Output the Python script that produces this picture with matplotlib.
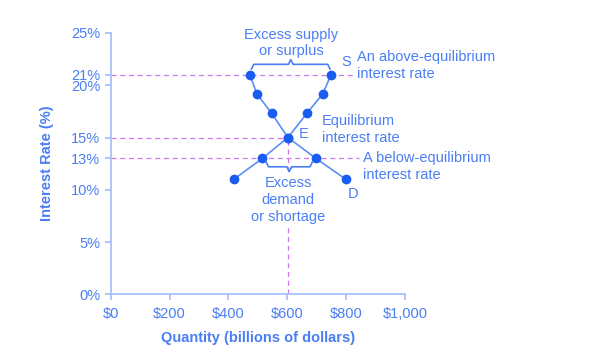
import matplotlib.pyplot as plt

# supply and demand points (quantity in billions, interest rate in %)
supply_q = [418, 515, 602, 666, 721, 748]
supply_r = [11, 13, 15, 17.3, 19.2, 21]
demand_q = [473, 496, 547, 602, 697, 799]
demand_r = [21, 19.2, 17.3, 15, 13, 11]

yticks = [0, 5, 10, 13, 15, 20, 21, 25]
ytick_labels = ["0%", "5%", "10%", "13%", "15%", "20%", "21%", "25%"]
xticks = [0, 200, 400, 600, 800, 1000]
xtick_labels = ["$0", "$200", "$400", "$600", "$800", "$1,000"]

text_c = "#4a7ef5"
spine_c = "#a3bcf8"
line_c = "#5b8ef5"
dot_c = "#1a5cf0"
dash_c = "#cc77ee"

plt.rcParams['font.family'] = ['Liberation Sans', 'DejaVu Sans']

fig = plt.figure(figsize=(5.94, 3.57), dpi=100)
ax = fig.add_axes([0.1864, 0.1756, 0.4956, 0.7320])
ax.set_xlim(0, 1000)
ax.set_ylim(0, 25)

# dashed guide lines
ax.plot([0, 830], [21, 21], ls=(0, (4, 3)), color=dash_c, lw=0.9, zorder=1)
ax.plot([0, 602], [15, 15], ls=(0, (4, 3)), color=dash_c, lw=0.9, zorder=1)
ax.plot([0, 845], [13, 13], ls=(0, (4, 3)), color=dash_c, lw=0.9, zorder=1)
ax.plot([602, 602], [0, 15], ls=(0, (4, 3)), color=dash_c, lw=0.9, zorder=1)

ax.plot(supply_q, supply_r, color=line_c, lw=1.2, marker='o', ms=6,
        mfc=dot_c, mec=dot_c, zorder=3)
ax.plot(demand_q, demand_r, color=line_c, lw=1.2, marker='o', ms=6,
        mfc=dot_c, mec=dot_c, zorder=3)


def brace(x0, x1, y, h, up=True):
    s = 1 if up else -1
    xm = (x0 + x1) / 2
    xs = [x0, x0 + 8, xm - 8, xm, xm + 8, x1 - 8, x1]
    ys = [y - s * h * 0.5, y, y, y + s * h * 0.5, y, y, y - s * h * 0.5]
    ax.plot(xs, ys, color=text_c, lw=1.2, zorder=4, solid_joinstyle='round')


brace(478, 745, 22.0, 0.9, up=True)
brace(528, 685, 12.2, 0.9, up=False)

fs = 10.5
ls = 1.25
ax.text(612, 24.05, "Excess supply\nor surplus", ha='center', va='center',
        color=text_c, fontsize=fs, linespacing=ls)
ax.text(785, 22.2, "S", ha='left', va='center', color=text_c, fontsize=fs)
ax.text(835, 21.9, "An above-equilibrium\ninterest rate", ha='left', va='center',
        color=text_c, fontsize=fs, linespacing=ls)
ax.text(640, 15.3, "E", ha='left', va='center', color=text_c, fontsize=fs)
ax.text(718, 15.8, "Equilibrium\ninterest rate", ha='left', va='center',
        color=text_c, fontsize=fs, linespacing=ls)
ax.text(858, 12.25, "A below-equilibrium\ninterest rate", ha='left', va='center',
        color=text_c, fontsize=fs, linespacing=ls)
ax.text(806, 9.6, "D", ha='left', va='center', color=text_c, fontsize=fs)
ax.text(603, 9.0, "Excess\ndemand\nor shortage", ha='center', va='center',
        color=text_c, fontsize=fs, linespacing=ls,
        bbox=dict(facecolor='white', edgecolor='none', pad=1))

ax.set_xticks(xticks)
ax.set_xticklabels(xtick_labels)
ax.set_yticks(yticks)
ax.set_yticklabels(ytick_labels)
ax.tick_params(colors=spine_c, labelcolor=text_c, labelsize=10.5, length=4,
               width=1.2)
ax.tick_params(axis='x', pad=5)
for side in ['top', 'right']:
    ax.spines[side].set_visible(False)
for side in ['left', 'bottom']:
    ax.spines[side].set_color(spine_c)
    ax.spines[side].set_linewidth(1.2)

ax.set_xlabel("Quantity (billions of dollars)", color=text_c, fontsize=10.5,
              fontweight='bold', labelpad=7)
ax.set_ylabel("Interest Rate (%)", color=text_c, fontsize=10.5,
              fontweight='bold', labelpad=12)

fig.savefig("out.png", dpi=100)
